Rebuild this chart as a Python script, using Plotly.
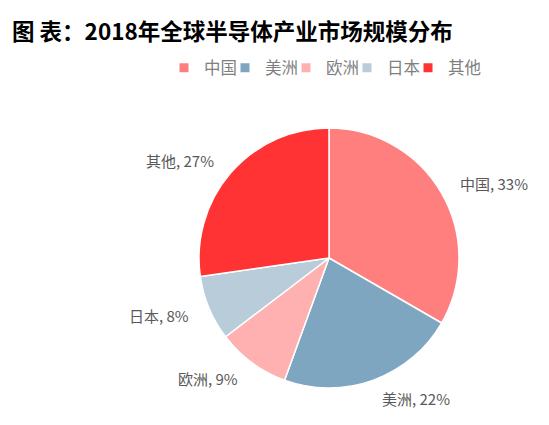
import math
import plotly.graph_objects as go

categories = ["中国", "美洲", "欧洲", "日本", "其他"]
values = [33, 22, 9, 8, 27]
colors = ["#FF7F7F", "#7FA6C0", "#FFB0B0", "#B8CCDA", "#FF3333"]
title_text = "图 表：2018年全球半导体产业市场规模分布"

W, H = 549, 425
cx, cy, R = 329, 258, 130

fig = go.Figure(go.Pie(
    labels=categories,
    values=values,
    marker=dict(colors=colors, line=dict(color="white", width=1.5)),
    sort=False,
    direction="clockwise",
    rotation=0,
    textinfo="none",
    hoverinfo="label+value",
    showlegend=False,
    domain=dict(x=[(cx - R) / W, (cx + R) / W], y=[(H - cy - R) / H, (H - cy + R) / H]),
))

# legend entries (one compact legend per category so spacing matches)
legend_layouts = {}
leg_x0, leg_step = 164, 61
for i, (lab, col) in enumerate(zip(categories, colors)):
    key = "legend" if i == 0 else f"legend{i + 1}"
    fig.add_trace(go.Scatter(
        x=[None], y=[None], mode="markers", name=lab,
        marker=dict(symbol="square", size=9, color=col),
        legend=key, showlegend=True, hoverinfo="skip",
    ))
    legend_layouts[key] = dict(
        orientation="h", x=(leg_x0 + leg_step * i) / W, y=1 - 68 / H,
        xanchor="left", yanchor="middle", bgcolor="rgba(0,0,0,0)",
        font=dict(size=16.5, color="#7F7F7F", family="Noto Sans CJK SC, sans-serif"),
        itemwidth=30,
    )

# labels placed outside, next to a point on each slice's mid angle
total = sum(values)
cum = 0
annotations = []
for lab, v in zip(categories, values):
    mid = (cum + v / 2) / total * 2 * math.pi
    cum += v
    r = R * 1.15
    px = cx + r * math.sin(mid)
    py = cy - r * math.cos(mid)
    annotations.append(dict(
        x=px / W, y=1 - py / H, xref="paper", yref="paper",
        text=f"{lab}, {v}%", showarrow=False,
        font=dict(size=15, color="#595959", family="Noto Sans CJK SC, sans-serif"),
        xanchor="left" if math.sin(mid) > 0 else "right", yanchor="middle",
    ))

annotations.append(dict(
    x=10 / W, y=1 - 30 / H, xref="paper", yref="paper",
    text="<b>" + title_text + "</b>", showarrow=False,
    font=dict(size=22.5, color="#000000", family="Noto Sans CJK SC, sans-serif"),
    xanchor="left", yanchor="middle",
))

fig.update_layout(
    width=W, height=H,
    margin=dict(l=0, r=0, t=0, b=0),
    paper_bgcolor="white", plot_bgcolor="white",
    xaxis=dict(visible=False), yaxis=dict(visible=False),
    annotations=annotations,
    **legend_layouts,
)

fig.write_html("out.html")
